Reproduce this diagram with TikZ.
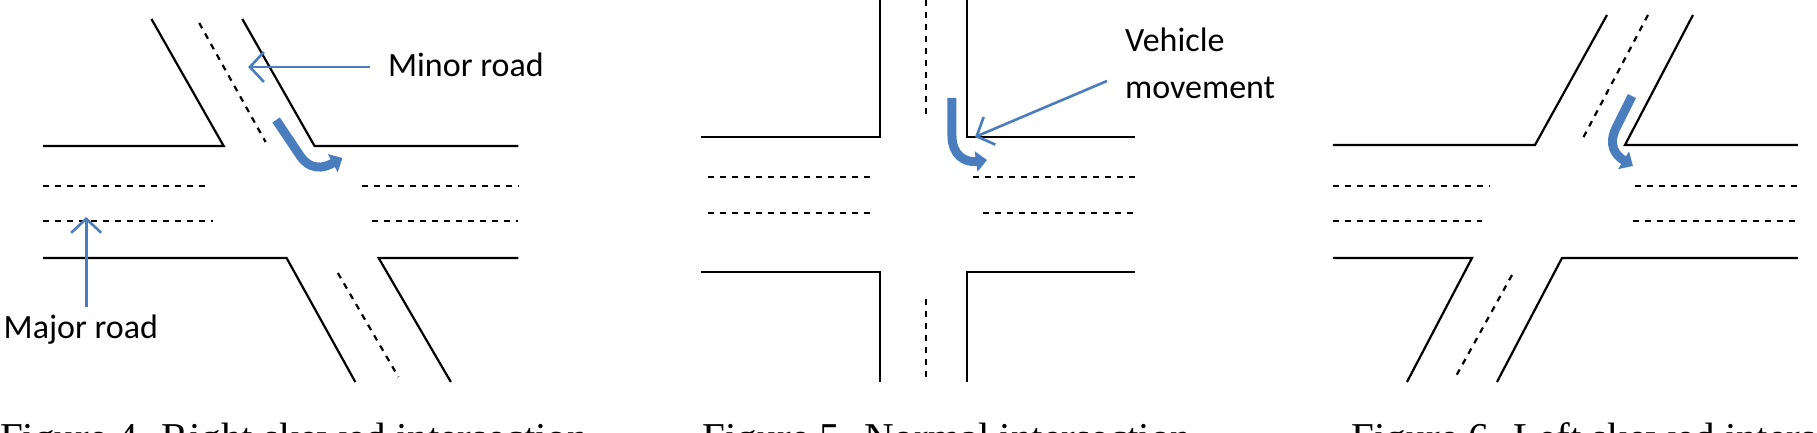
\documentclass[tikz,border=0pt]{standalone}
\usepackage{fontspec}
\setmainfont{Liberation Serif}
\newfontfamily\lab{Carlito}
\usetikzlibrary{arrows.meta}
\definecolor{bl}{RGB}{74,125,190}
\begin{document}
\begin{tikzpicture}[x=1.165pt,y=-1pt,
  road/.style={line width=2.2pt,black},
  lane/.style={line width=2.2pt,dash pattern=on 6pt off 6pt},
  lbl/.style={font=\lab\fontsize{34}{38}\selectfont,anchor=west,inner sep=0},
  figcap/.style={font=\fontsize{41}{45}\selectfont,anchor=base west,inner sep=0},
  pointer/.style={bl,line width=2.6pt,-{Straight Barb[length=14pt,width=30pt,line width=2.6pt]}},
  turn/.style={bl,line width=9pt,-{Triangle[length=11pt,width=20pt]}}]
\useasboundingbox (0,0) rectangle (1559.7,433);
\clip (0,0) rectangle (1559.7,433);
% Figure 4
\draw[road] (37,146) -- (192,146) -- (130,19);
\draw[road] (208,19) -- (270,146) -- (445,146);
\draw[road] (37,258) -- (246,258) -- (305,382);
\draw[road] (445,258) -- (325,258) -- (387,382);
\draw[lane] (171,23) -- (228,142);
\draw[lane] (290,273) -- (342,377);
\draw[lane] (37,186) -- (181,186); \draw[lane] (311,186) -- (445,186);
\draw[lane] (37,221) -- (183,221); \draw[lane] (319,221) -- (445,221);
\node[lbl] (minor) at (333,65) {Minor road};
\coordinate (minorTip) at (213,67);
\draw[pointer] (318,67) -- (minorTip);
\node[lbl] (major) at (3,330) {Major road};
\coordinate (majorTip) at (74,217);
\draw[pointer] (74,307) -- (majorTip);
\draw[turn] (237,120) -- (256,153) .. controls (266,172) and (278,168) .. (294,158);
\begin{scope}[x=1pt]
% Figure 5
\draw[road] (880,0) -- (880,137) -- (701,137);
\draw[road] (967,0) -- (967,137) -- (1135,137);
\draw[road] (701,272) -- (880,272) -- (880,382);
\draw[road] (1135,272) -- (967,272) -- (967,382);
\draw[lane] (926,0) -- (926,116);
\draw[lane] (926,299) -- (926,382);
\draw[lane] (708,177) -- (874,177); \draw[lane] (973,177) -- (1135,177);
\draw[lane] (708,213) -- (874,213); \draw[lane] (983,213) -- (1135,213);
\node[lbl] (veh) at (1125,40) {Vehicle};
\node[lbl] (mov) at (1125,88) {movement};
\coordinate (vehTip) at (975,137);
\draw[pointer] (1107,81) -- (vehTip);
\draw[turn] (952,98) -- (952,136) .. controls (952,155) and (965,163) .. (987,160);
% Figure 6
\draw[road] (1333,145) -- (1535,145) -- (1607,15);
\draw[road] (1693,15) -- (1625,145) -- (1798,145);
\draw[road] (1333,258) -- (1472,258) -- (1407,382);
\draw[road] (1798,258) -- (1562,258) -- (1497,382);
\draw[lane] (1648,15) -- (1582,140);
\draw[lane] (1512,275) -- (1455,378);
\draw[lane] (1333,186) -- (1490,186); \draw[lane] (1635,186) -- (1798,186);
\draw[lane] (1333,221) -- (1482,221); \draw[lane] (1633,221) -- (1798,221);
\draw[turn] (1632,96) -- (1616,128) .. controls (1608,145) and (1615,155) .. (1633,166);
\end{scope}
% captions
\node[figcap] (c4) at (0,452) {Figure 4. Right skewed intersection};
\node[figcap] (c5) at (603,452) {Figure 5. Normal intersection};
\node[figcap] (c6) at (1160,452) {Figure 6. Left skewed intersection};
\end{tikzpicture}
\end{document}
